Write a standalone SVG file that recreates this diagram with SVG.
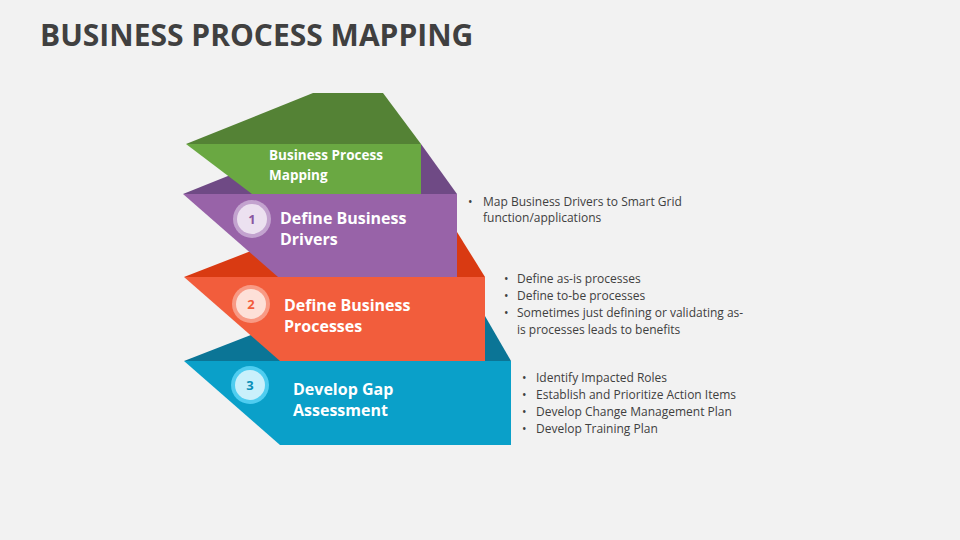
<svg xmlns="http://www.w3.org/2000/svg" width="960" height="540" viewBox="0 0 960 540">
<style>
.t{font-family:"Open Sans","Liberation Sans",sans-serif;font-weight:bold;fill:#fff}
.b{font-family:"Open Sans","Liberation Sans",sans-serif;font-size:12px;fill:#404040}
.n{font-family:"Open Sans","Liberation Sans",sans-serif;font-weight:bold;font-size:13px;text-anchor:middle}
</style>
<rect width="960" height="540" fill="#f2f2f2"/>
<text x="40" y="46" font-family="Open Sans,Liberation Sans,sans-serif" font-weight="bold" font-size="30" fill="#404040">BUSINESS PROCESS MAPPING</text>
<g id="connectors"></g>
<g id="step3">
<polygon points="184,361 300,316 485,316 511,361" fill="#0b7596"/>
<polygon points="184,361 511,361 511,445 280,445" fill="#0aa0c9"/>
<circle cx="250" cy="385" r="19" fill="#4fcdf0"/><circle cx="250" cy="385" r="15" fill="#c9f0fb"/>
<text class="n" x="250" y="390" fill="#0a8fb8">3</text>
<text class="t" font-size="16" x="293" y="395">Develop Gap</text>
<text class="t" font-size="16" x="293" y="416">Assessment</text>
</g>
<g id="step2">
<polygon points="184,277 300,232 457,232 485,277" fill="#d93a12"/>
<polygon points="184,277 485,277 485,361 280,361" fill="#f25d3c"/>
<circle cx="251" cy="304" r="19" fill="#f89a85"/><circle cx="251" cy="304" r="15" fill="#fde0d8"/>
<text class="n" x="251" y="309" fill="#f25d3c">2</text>
<text class="t" font-size="16" x="284" y="311">Define Business</text>
<text class="t" font-size="16" x="284" y="332">Processes</text>
</g>
<g id="step1">
<polygon points="183,194 308,144 421,144 457,194" fill="#6f4a85"/>
<polygon points="183,194 457,194 457,277 278,277" fill="#9863a8"/>
<circle cx="252" cy="219" r="19" fill="#c3a3cf"/><circle cx="252" cy="219" r="15" fill="#ece1f0"/>
<text class="n" x="252" y="224" fill="#8a57a0">1</text>
<text class="t" font-size="16" x="280" y="224">Define Business</text>
<text class="t" font-size="16" x="280" y="245">Drivers</text>
</g>
<g id="top">
<polygon points="186,144 313,93 383,93 421,144" fill="#548235"/>
<polygon points="186,144 421,144 421,194 252,194" fill="#6aa842"/>
<text class="t" font-size="13.5" x="269" y="160">Business Process</text>
<text class="t" font-size="13.5" x="269" y="180">Mapping</text>
</g>
<g id="notes1" class="b">
<text x="468" y="206">•</text><text x="483" y="206">Map Business Drivers to Smart Grid</text>
<text x="483" y="222">function/applications</text>
</g>
<g id="notes2" class="b">
<text x="504" y="283">•</text><text x="517" y="283">Define as-is processes</text>
<text x="504" y="300">•</text><text x="517" y="300">Define to-be processes</text>
<text x="504" y="317">•</text><text x="517" y="317">Sometimes just defining or validating as-</text>
<text x="517" y="334">is processes leads to benefits</text>
</g>
<g id="notes3" class="b">
<text x="522" y="382">•</text><text x="536" y="382">Identify Impacted Roles</text>
<text x="522" y="399">•</text><text x="536" y="399">Establish and Prioritize Action Items</text>
<text x="522" y="416">•</text><text x="536" y="416">Develop Change Management Plan</text>
<text x="522" y="433">•</text><text x="536" y="433">Develop Training Plan</text>
</g>
</svg>
